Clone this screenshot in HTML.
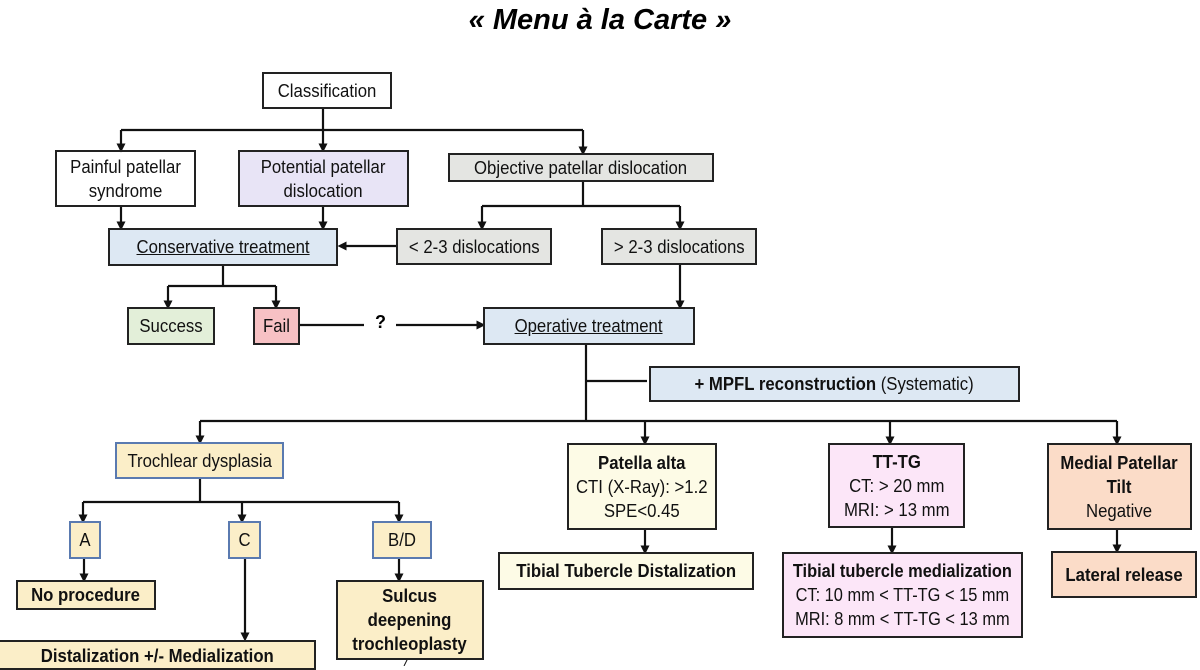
<!DOCTYPE html>
<html><head><meta charset="utf-8"><style>
body{margin:0;width:1200px;height:666px;background:#fff;position:relative;overflow:hidden;font-family:"Liberation Sans",Arial,sans-serif;}
.b{position:absolute;box-sizing:border-box;border:2px solid #222;display:flex;flex-direction:column;align-items:center;justify-content:center;text-align:center;font-size:18px;line-height:24px;color:#111;}
.b>div{transform:scaleX(.93);white-space:nowrap}
.b.n>div{transform:scaleX(.91)}
.bold{font-weight:bold}
.u{text-decoration:underline}
svg{position:absolute;left:0;top:0}
.t{position:absolute;left:0;width:1200px;top:4px;text-align:center;font-size:29px;font-weight:bold;font-style:italic}
</style></head><body>
<div class="t">« Menu à la Carte »</div>
<svg width="1200" height="666">
<defs><marker id="a" markerWidth="9" markerHeight="9" refX="4.5" refY="4.5" orient="auto" markerUnits="userSpaceOnUse"><path d="M0,0L9,4.5L0,9z" fill="#111"/></marker></defs>
<g stroke="#111" stroke-width="2.2" fill="none">
<path d="M323,109V130M121,130H583"/>
<path d="M121,130V148" marker-end="url(#a)"/><path d="M323,130V148" marker-end="url(#a)"/><path d="M583,130V151" marker-end="url(#a)"/>
<path d="M583,182V206M482,206H680"/>
<path d="M482,206V226" marker-end="url(#a)"/><path d="M680,206V226" marker-end="url(#a)"/>
<path d="M121,207V226" marker-end="url(#a)"/><path d="M323,207V226" marker-end="url(#a)"/>
<path d="M396,246H342" marker-end="url(#a)"/>
<path d="M680,265V305" marker-end="url(#a)"/>
<path d="M223,266V286M168,286H276"/>
<path d="M168,286V305" marker-end="url(#a)"/><path d="M276,286V305" marker-end="url(#a)"/>
<path d="M300,325H364"/><path d="M396,325H481" marker-end="url(#a)"/>
<path d="M586,345V421M586,381H647M200,421H1117"/>
<path d="M200,421V440" marker-end="url(#a)"/><path d="M645,421V441" marker-end="url(#a)"/><path d="M890,421V441" marker-end="url(#a)"/><path d="M1117,421V441" marker-end="url(#a)"/>
<path d="M200,479V502M83,502H399"/>
<path d="M83,502V519" marker-end="url(#a)"/><path d="M242,502V519" marker-end="url(#a)"/><path d="M399,502V519" marker-end="url(#a)"/>
<path d="M84,559V578" marker-end="url(#a)"/><path d="M245,559V637" marker-end="url(#a)"/><path d="M399,559V578" marker-end="url(#a)"/>
<path d="M645,530V550" marker-end="url(#a)"/><path d="M892,528V550" marker-end="url(#a)"/><path d="M1117,530V549" marker-end="url(#a)"/>
<path d="M410,654L404,666" stroke-width="1"/>
</g></svg>
<div class="b" style="left:262px;top:72px;width:130px;height:37px"><div>Classification</div></div>
<div class="b" style="left:55px;top:150px;width:141px;height:57px"><div>Painful patellar<br>syndrome</div></div>
<div class="b" style="left:238px;top:150px;width:171px;height:57px;background:#e8e4f6"><div>Potential patellar<br>dislocation</div></div>
<div class="b" style="left:448px;top:153px;width:266px;height:29px;background:#e4e5e2"><div>Objective patellar dislocation</div></div>
<div class="b u" style="left:108px;top:228px;width:230px;height:38px;background:#dde8f3"><div>Conservative treatment</div></div>
<div class="b" style="left:396px;top:228px;width:156px;height:37px;background:#e4e5e2"><div>&lt; 2-3 dislocations</div></div>
<div class="b" style="left:601px;top:228px;width:156px;height:37px;background:#e4e5e2"><div>&gt; 2-3 dislocations</div></div>
<div class="b" style="left:127px;top:307px;width:88px;height:38px;background:#e3efd9"><div>Success</div></div>
<div class="b" style="left:253px;top:307px;width:47px;height:38px;background:#f7c1c4"><div>Fail</div></div>
<div style="position:absolute;left:375px;top:312px;font-size:18px;font-weight:bold">?</div>
<div class="b u" style="left:483px;top:307px;width:212px;height:38px;background:#dde8f3"><div>Operative treatment</div></div>
<div class="b" style="left:649px;top:366px;width:371px;height:36px;background:#dde8f3"><div><b>+ MPFL reconstruction</b> (Systematic)</div></div>
<div class="b" style="left:115px;top:442px;width:169px;height:37px;background:#fbeec8;border-color:#5a7ab0"><div>Trochlear dysplasia</div></div>
<div class="b" style="left:69px;top:521px;width:32px;height:38px;background:#fbeec8;border-color:#5a7ab0"><div>A</div></div>
<div class="b" style="left:228px;top:521px;width:33px;height:38px;background:#fbeec8;border-color:#5a7ab0"><div>C</div></div>
<div class="b" style="left:372px;top:521px;width:60px;height:38px;background:#fbeec8;border-color:#5a7ab0"><div>B/D</div></div>
<div class="b bold" style="left:16px;top:580px;width:140px;height:30px;background:#fbeec8"><div>No procedure</div></div>
<div class="b bold" style="left:-2px;top:640px;width:318px;height:30px;background:#fbeec8;justify-content:flex-start;padding-top:2px"><div>Distalization +/- Medialization</div></div>
<div class="b bold" style="left:336px;top:580px;width:148px;height:80px;background:#fbeec8"><div>Sulcus<br>deepening<br>trochleoplasty</div></div>
<div class="b" style="left:567px;top:443px;width:150px;height:87px;background:#fdfbe6"><div><b>Patella alta</b><br>CTI (X-Ray): &gt;1.2<br>SPE&lt;0.45</div></div>
<div class="b bold" style="left:498px;top:552px;width:256px;height:38px;background:#fdfbe6"><div>Tibial Tubercle Distalization</div></div>
<div class="b" style="left:828px;top:443px;width:137px;height:85px;background:#fce6f8"><div><b>TT-TG</b><br>CT: &gt; 20 mm<br>MRI: &gt; 13 mm</div></div>
<div class="b n" style="left:782px;top:552px;width:241px;height:86px;background:#fce6f8"><div><b>Tibial tubercle medialization</b><br>CT: 10 mm &lt; TT-TG &lt; 15 mm<br>MRI: 8 mm &lt; TT-TG &lt; 13 mm</div></div>
<div class="b" style="left:1047px;top:443px;width:145px;height:87px;background:#fbdcc8"><div><b>Medial Patellar<br>Tilt</b><br>Negative</div></div>
<div class="b bold" style="left:1051px;top:551px;width:146px;height:47px;background:#fbdcc8"><div>Lateral release</div></div>
</body></html>
